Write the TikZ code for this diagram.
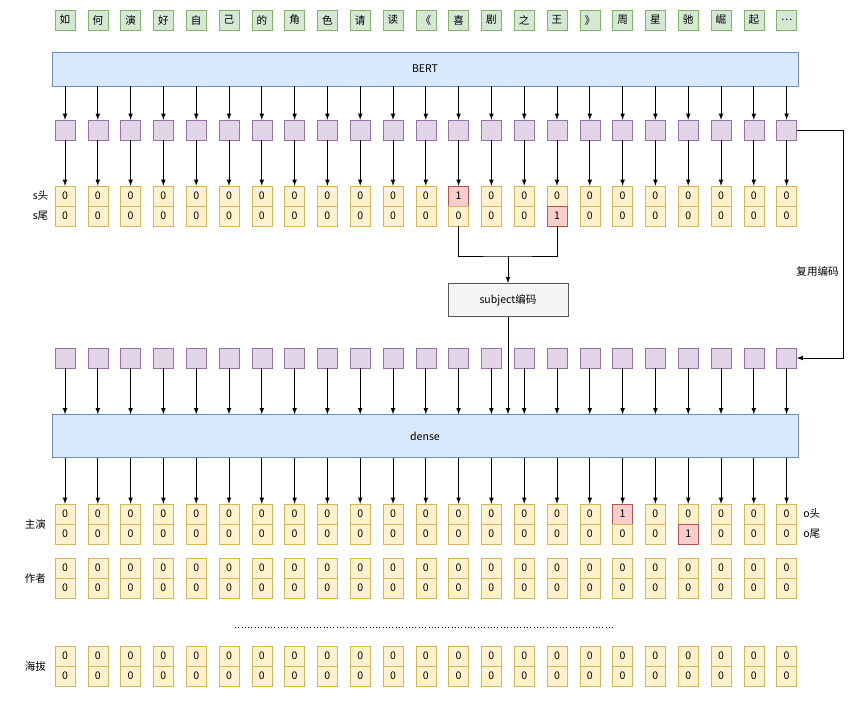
\documentclass[tikz,border=0pt]{standalone}
\usepackage{fontspec}
\setmainfont{Noto Sans CJK SC}
\usetikzlibrary{positioning}
\definecolor{gfill}{HTML}{D5E8D4}\definecolor{gdraw}{HTML}{82B366}
\definecolor{bfill}{HTML}{DAE8FC}\definecolor{bdraw}{HTML}{6C8EBF}
\definecolor{pfill}{HTML}{E1D5E7}\definecolor{pdraw}{HTML}{9673A6}
\definecolor{yfill}{HTML}{FFF2CC}\definecolor{ydraw}{HTML}{D6B656}
\definecolor{rfill}{HTML}{F8CECC}\definecolor{rdraw}{HTML}{B85450}
\tikzset{
  tok/.style={draw=gdraw, fill=gfill, minimum size=0.6cm, inner sep=0pt, font=\small},
  enc/.style={draw=pdraw, fill=pfill, minimum size=0.6cm, inner sep=0pt},
  cell/.style={draw=ydraw, fill=yfill, minimum width=0.6cm, minimum height=0.6cm, inner sep=0pt, font=\small},
  hit/.style={cell, draw=rdraw, fill=rfill},
  bar/.style={draw=bdraw, fill=bfill, minimum width=22.38cm, inner sep=0pt, font=\small},
  lab/.style={font=\small},
  arr/.style={-latex, thick}
}
\begin{document}
\begin{tikzpicture}[x=0.03cm,y=-0.03cm]
\useasboundingbox (0,0) rectangle (860,701);
% tokens
\foreach \c [count=\i from 0] in {如,何,演,好,自,己,的,角,色,请,读,《,喜,剧,之,王,》,周,星,驰,崛,起,{\ldots}}
  \node[tok] (t\i) at (65+32.8*\i,20) {\c};
\node[bar, minimum height=1.02cm] (bert) at (425,69) {BERT};
\node[bar, minimum height=1.29cm] (dense) at (425,436) {dense};
% encodings
\foreach \i in {0,...,22} {
  \node[enc] (e\i) at (65+32.8*\i,130) {};
  \node[enc] (f\i) at (65+32.8*\i,358) {};
  \draw[arr] (e\i |- bert.south) -- (e\i);
  \draw[arr] (f\i) -- (f\i |- dense.north);
}
% subject tags
\foreach \i in {0,...,22} {
  \ifnum\i=12 \node[hit] (sh\i) at (65+32.8*\i,196) {1};
  \else \node[cell] (sh\i) at (65+32.8*\i,196) {0}; \fi
  \ifnum\i=15 \node[hit] (st\i) at (65+32.8*\i,216) {1};
  \else \node[cell] (st\i) at (65+32.8*\i,216) {0}; \fi
  \draw[arr] (e\i) -- (sh\i);
}
\node[lab, left=2pt of sh0] {s头};
\node[lab, left=2pt of st0] {s尾};
% subject
\node[draw=gray!70!black, fill=gray!8, minimum width=3.6cm, minimum height=1cm, font=\small] (subj) at (508,300) {subject编码};
\coordinate (j) at (508,256);
\draw (st12) |- (j) -| (st15);
\draw[arr] (j) -- (subj);
\draw[arr] (subj) -- (subj |- dense.north);
% reuse
\coordinate (r1) at (843,130);
\coordinate (r2) at (843,358);
\draw[arr] (e22) -- (r1) -- node[lab, left, pos=0.62] {复用编码} (r2) -- (f22);
% object tags
\foreach \i in {0,...,22} {
  \ifnum\i=17 \node[hit] (oh\i) at (65+32.8*\i,514) {1};
  \else \node[cell] (oh\i) at (65+32.8*\i,514) {0}; \fi
  \ifnum\i=19 \node[hit] (ot\i) at (65+32.8*\i,534) {1};
  \else \node[cell] (ot\i) at (65+32.8*\i,534) {0}; \fi
  \draw[arr] (oh\i |- dense.south) -- (oh\i);
  \node[cell] (ah\i) at (65+32.8*\i,568) {0};
  \node[cell] (at\i) at (65+32.8*\i,588) {0};
  \node[cell] (hh\i) at (65+32.8*\i,656) {0};
  \node[cell] (ht\i) at (65+32.8*\i,676) {0};
}
\node[lab, left=4pt of oh0, yshift=-0.3cm] {主演};
\node[lab, left=4pt of ah0, yshift=-0.3cm] {作者};
\node[lab, left=4pt of hh0, yshift=-0.3cm] {海拔};
\node[lab, right=2pt of oh22] {o头};
\node[lab, right=2pt of ot22] {o尾};
\draw[dotted, thick] (235,627) -- (615,627);
\end{tikzpicture}
\end{document}
